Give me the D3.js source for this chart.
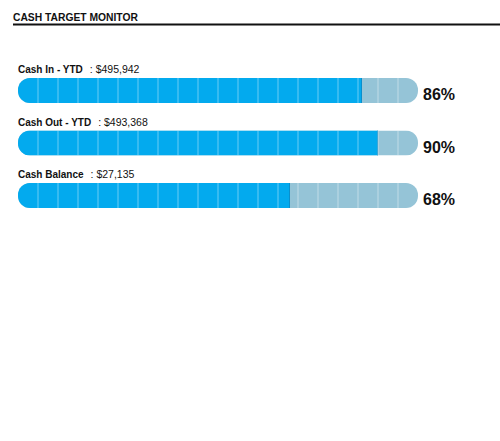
<!DOCTYPE html>
<html>
<head>
<meta charset="utf-8">
<script src="https://cdn.jsdelivr.net/npm/d3@7"></script>
<style>
  body { margin: 0; background: #fff; }
  svg { display: block; font-family: "Liberation Sans", Arial, sans-serif; }
</style>
</head>
<body>
<div id="chart"></div>
<script>
// chart data
const titleText = 'CASH TARGET MONITOR';
const labels = ['Cash In - YTD', 'Cash Out - YTD', 'Cash Balance'];
const amounts = ['$495,942', '$493,368', '$27,135'];
const percents = [86, 90, 68];
const segmentTicks = d3.range(5, 100, 5);

const width = 500, height = 441;
const barH = 25;

const svg = d3.select('#chart')
  .append('svg')
  .attr('width', width)
  .attr('height', height);

// title + rule
svg.append('text')
  .attr('x', 13)
  .attr('y', 21)
  .attr('font-size', '10.3px')
  .attr('font-weight', 'bold')
  .attr('fill', '#111')
  .text(titleText);
svg.append('line')
  .attr('x1', 13).attr('x2', width)
  .attr('y1', 24.5).attr('y2', 24.5)
  .attr('stroke', '#111')
  .attr('stroke-width', 2);

const x = d3.scaleLinear().domain([0, 100]).range([18, 418]);
const y = d3.scalePoint().domain(labels).range([78, 183]);

const rows = svg.selectAll('g.row')
  .data(labels.map((l, i) => ({ label: l, amount: amounts[i], pct: percents[i] })))
  .enter().append('g')
  .attr('class', 'row')
  .attr('transform', d => `translate(0,${y(d.label)})`);

// clip each bar to a rounded shape
rows.append('clipPath')
  .attr('id', (d, i) => 'clip' + i)
  .append('rect')
  .attr('x', x(0))
  .attr('width', x(100) - x(0))
  .attr('height', barH)
  .attr('rx', 12).attr('ry', 12);

const bars = rows.append('g')
  .attr('clip-path', (d, i) => `url(#clip${i})`);

bars.append('rect')
  .attr('x', x(0))
  .attr('width', x(100) - x(0))
  .attr('height', barH)
  .attr('fill', '#95c4d7');

bars.append('rect')
  .attr('x', x(0))
  .attr('width', d => x(d.pct) - x(0))
  .attr('height', barH)
  .attr('fill', '#03aaee');

// darker edge where the fill stops
bars.append('line')
  .attr('x1', d => x(d.pct) - 0.5).attr('x2', d => x(d.pct) - 0.5)
  .attr('y1', 0).attr('y2', barH)
  .attr('stroke', '#0a8fcc')
  .attr('stroke-width', 1);

// segment dividers
bars.selectAll('line.seg')
  .data(segmentTicks)
  .enter().append('line')
  .attr('class', 'seg')
  .attr('x1', t => x(t)).attr('x2', t => x(t))
  .attr('y1', 0).attr('y2', barH)
  .attr('stroke', '#ffffff')
  .attr('stroke-opacity', 0.35)
  .attr('stroke-width', 1.2);

// labels above bars
const lab = rows.append('text')
  .attr('x', 18)
  .attr('y', -5)
  .attr('font-size', '10px')
  .attr('fill', '#111');
lab.append('tspan')
  .attr('font-weight', 'bold')
  .text(d => d.label);
lab.append('tspan')
  .attr('dx', 7)
  .attr('font-size', '10.5px')
  .text(d => ': ' + d.amount);

// percentage to the right
rows.append('text')
  .attr('x', 423)
  .attr('y', 22)
  .attr('font-size', '16px')
  .attr('font-weight', 'bold')
  .attr('fill', '#111')
  .text(d => d.pct + '%');
</script>
</body>
</html>
